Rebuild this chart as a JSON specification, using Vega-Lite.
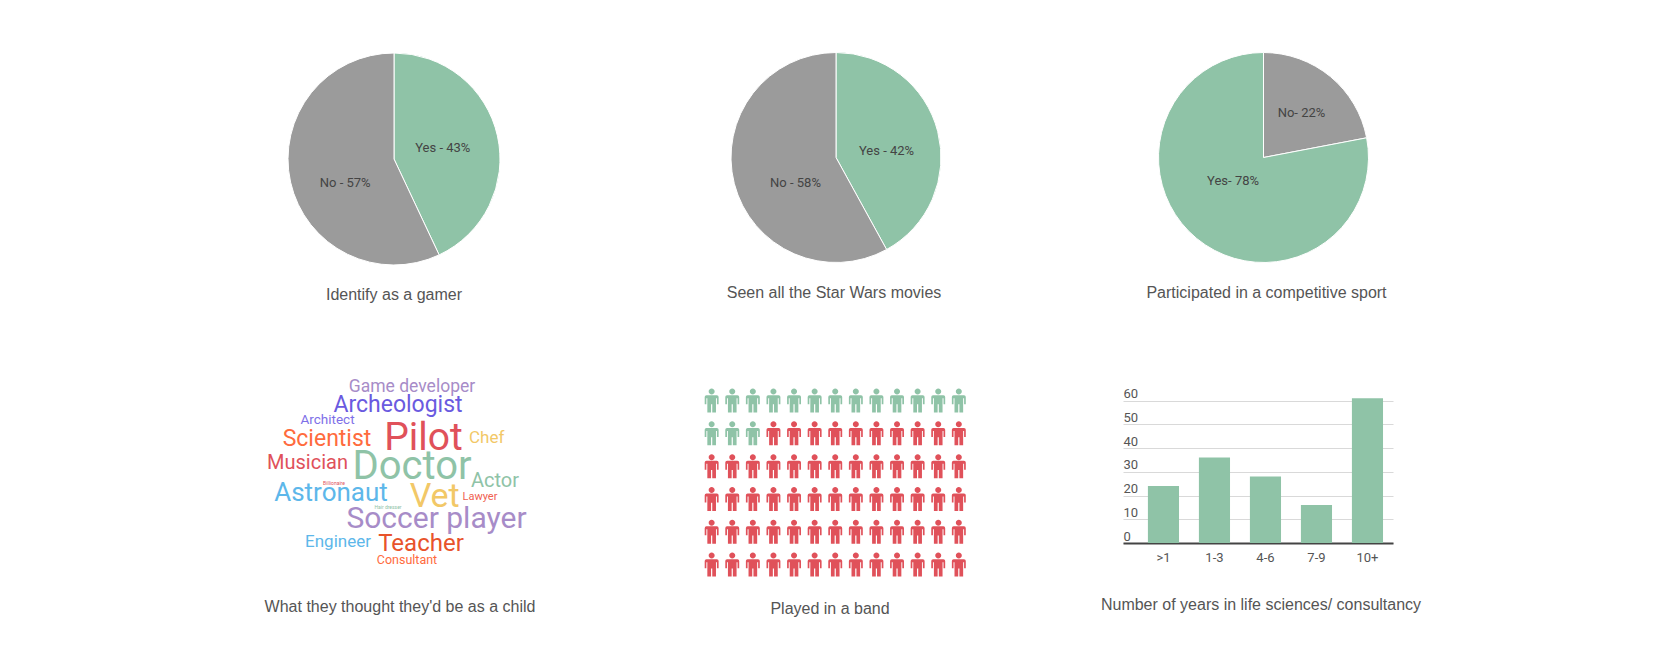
{
  "$schema": "https://vega.github.io/schema/vega-lite/v6.json",
  "padding": {"left": 173, "top": 0, "right": 0, "bottom": 0},
  "background": "white",
  "spacing": 22,
  "resolve": {"scale": {"color": "independent"}},
  "config": {
    "view": {"stroke": null},
    "font": "Roboto",
    "title": {"font": "Liberation Sans", "fontSize": 16, "fontWeight": "normal", "color": "#555555", "orient": "bottom", "anchor": "middle", "frame": "group"}
  },
  "vconcat": [
    {
      "spacing": 0,
      "resolve": {"scale": {"color": "independent"}},
      "hconcat": [
        {
          "width": 442,
          "height": 318,
          "title": {"text": "Identify as a gamer", "offset": -31},
          "data": {"values": [
            {"answer": "Yes", "share": 43, "slice": 1, "label": "Yes - 43%"},
            {"answer": "No", "share": 57, "slice": 2, "label": "No - 57%"}
          ]},
          "encoding": {
            "theta": {"field": "share", "type": "quantitative", "stack": true},
            "order": {"field": "slice", "type": "ordinal"},
            "detail": {"field": "answer"}
          },
          "layer": [
            {
              "mark": {"type": "arc", "outerRadius": 106, "stroke": "white", "strokeWidth": 1},
              "encoding": {"color": {"field": "answer", "type": "nominal", "legend": null, "scale": {"domain": ["Yes", "No"], "range": ["#8fc3a7", "#9b9b9b"]}}}
            },
            {
              "mark": {"type": "text", "radius": 50, "fontSize": 13, "color": "#444444", "dy": {"expr": "datum.answer === 'No' ? 12.6 : 0"}},
              "encoding": {"text": {"field": "label"}}
            }
          ]
        },
        {
          "width": 442,
          "height": 315,
          "title": {"text": "Seen all the Star Wars movies", "offset": -30, "dx": -2},
          "data": {"values": [
            {"answer": "Yes", "share": 42, "slice": 1, "label": "Yes - 42%"},
            {"answer": "No", "share": 58, "slice": 2, "label": "No - 58%"}
          ]},
          "encoding": {
            "theta": {"field": "share", "type": "quantitative", "stack": true},
            "order": {"field": "slice", "type": "ordinal"},
            "detail": {"field": "answer"}
          },
          "layer": [
            {
              "mark": {"type": "arc", "outerRadius": 105, "stroke": "white", "strokeWidth": 1},
              "encoding": {"color": {"field": "answer", "type": "nominal", "legend": null, "scale": {"domain": ["Yes", "No"], "range": ["#8fc3a7", "#9b9b9b"]}}}
            },
            {
              "mark": {"type": "text", "radius": 47, "fontSize": 13, "color": "#444444", "dx": 5, "dy": {"expr": "datum.answer === 'No' ? 14.3 : 4.7"}},
              "encoding": {"text": {"field": "label"}}
            }
          ]
        },
        {
          "width": 413,
          "height": 315,
          "title": {"text": "Participated in a competitive sport", "offset": -30, "dx": 3},
          "data": {"values": [
            {"answer": "No", "share": 22, "slice": 1, "label": "No- 22%"},
            {"answer": "Yes", "share": 78, "slice": 2, "label": "Yes- 78%"}
          ]},
          "encoding": {
            "theta": {"field": "share", "type": "quantitative", "stack": true},
            "order": {"field": "slice", "type": "ordinal"},
            "detail": {"field": "answer"}
          },
          "layer": [
            {
              "mark": {"type": "arc", "outerRadius": 105, "stroke": "white", "strokeWidth": 1},
              "encoding": {"color": {"field": "answer", "type": "nominal", "legend": null, "scale": {"domain": ["Yes", "No"], "range": ["#8fc3a7", "#9b9b9b"]}}}
            },
            {
              "mark": {"type": "text", "radius": 47, "fontSize": 13, "color": "#444444", "dx": {"expr": "datum.answer === 'No' ? 8 : -0.5"}, "dy": {"expr": "datum.answer === 'No' ? -7.8 : -13.2"}},
              "encoding": {"text": {"field": "label"}}
            }
          ]
        }
      ]
    },
    {
      "spacing": 0,
      "resolve": {"scale": {"color": "independent"}},
      "hconcat": [
        {
          "width": 454,
          "height": 240,
          "title": {"text": "What they thought they'd be as a child", "offset": 19},
          "data": {"values": [
            {"word": "Game developer", "cx": 412, "cy": 385.7, "count": 17.5},
            {"word": "Archeologist", "cx": 398, "cy": 403, "count": 23},
            {"word": "Architect", "cx": 327.5, "cy": 418, "count": 13.5},
            {"word": "Pilot", "cx": 423.5, "cy": 436, "count": 39},
            {"word": "Scientist", "cx": 327, "cy": 437, "count": 23},
            {"word": "Chef", "cx": 486.7, "cy": 436, "count": 17},
            {"word": "Musician", "cx": 307.5, "cy": 461.7, "count": 20},
            {"word": "Doctor", "cx": 412, "cy": 465, "count": 40},
            {"word": "Actor", "cx": 495, "cy": 479, "count": 20},
            {"word": "Billionaire", "cx": 334, "cy": 481, "count": 5},
            {"word": "Astronaut", "cx": 331, "cy": 491, "count": 26},
            {"word": "Vet", "cx": 434.7, "cy": 495, "count": 34},
            {"word": "Lawyer", "cx": 480, "cy": 495.7, "count": 11},
            {"word": "Hair dresser", "cx": 388, "cy": 505, "count": 5},
            {"word": "Soccer player", "cx": 436.5, "cy": 517.5, "count": 30},
            {"word": "Engineer", "cx": 338, "cy": 540, "count": 17},
            {"word": "Teacher", "cx": 421, "cy": 542, "count": 24},
            {"word": "Consultant", "cx": 407, "cy": 558, "count": 12.5}
          ]},
          "mark": {"type": "text", "baseline": "middle", "align": "center"},
          "encoding": {
            "x": {"field": "cx", "type": "quantitative", "axis": null, "scale": {"domain": [173, 627], "nice": false, "zero": false}},
            "y": {"field": "cy", "type": "quantitative", "axis": null, "scale": {"domain": [338.5, 578.5], "reverse": true, "nice": false, "zero": false}},
            "text": {"field": "word"},
            "size": {"field": "count", "type": "quantitative", "scale": null, "legend": null},
            "color": {
              "field": "word",
              "type": "nominal",
              "legend": null,
              "scale": {
                "domain": ["Game developer", "Archeologist", "Architect", "Pilot", "Scientist", "Chef", "Musician", "Doctor", "Actor", "Billionaire", "Astronaut", "Vet", "Lawyer", "Hair dresser", "Soccer player", "Engineer", "Teacher", "Consultant"],
                "range": ["#a78cc8", "#6a5ae0", "#7e6fe8", "#e0515a", "#ff6b3d", "#f2c867", "#e0515a", "#8fc3a7", "#8fc3a7", "#e0515a", "#5db7ea", "#f2c867", "#f06050", "#8fc3a7", "#a78cc8", "#5db7ea", "#e8532b", "#ff6b3d"]
              }
            }
          }
        },
        {
          "width": 472.5,
          "height": 240,
          "title": {"text": "Played in a band", "offset": 21, "dx": -33.25},
          "data": {"values": [
            {"col": 1, "row": 1, "band": "Yes"}, {"col": 2, "row": 1, "band": "Yes"}, {"col": 3, "row": 1, "band": "Yes"}, {"col": 4, "row": 1, "band": "Yes"}, {"col": 5, "row": 1, "band": "Yes"}, {"col": 6, "row": 1, "band": "Yes"}, {"col": 7, "row": 1, "band": "Yes"}, {"col": 8, "row": 1, "band": "Yes"}, {"col": 9, "row": 1, "band": "Yes"}, {"col": 10, "row": 1, "band": "Yes"}, {"col": 11, "row": 1, "band": "Yes"}, {"col": 12, "row": 1, "band": "Yes"}, {"col": 13, "row": 1, "band": "Yes"},
            {"col": 1, "row": 2, "band": "Yes"}, {"col": 2, "row": 2, "band": "Yes"}, {"col": 3, "row": 2, "band": "Yes"}, {"col": 4, "row": 2, "band": "No"}, {"col": 5, "row": 2, "band": "No"}, {"col": 6, "row": 2, "band": "No"}, {"col": 7, "row": 2, "band": "No"}, {"col": 8, "row": 2, "band": "No"}, {"col": 9, "row": 2, "band": "No"}, {"col": 10, "row": 2, "band": "No"}, {"col": 11, "row": 2, "band": "No"}, {"col": 12, "row": 2, "band": "No"}, {"col": 13, "row": 2, "band": "No"},
            {"col": 1, "row": 3, "band": "No"}, {"col": 2, "row": 3, "band": "No"}, {"col": 3, "row": 3, "band": "No"}, {"col": 4, "row": 3, "band": "No"}, {"col": 5, "row": 3, "band": "No"}, {"col": 6, "row": 3, "band": "No"}, {"col": 7, "row": 3, "band": "No"}, {"col": 8, "row": 3, "band": "No"}, {"col": 9, "row": 3, "band": "No"}, {"col": 10, "row": 3, "band": "No"}, {"col": 11, "row": 3, "band": "No"}, {"col": 12, "row": 3, "band": "No"}, {"col": 13, "row": 3, "band": "No"},
            {"col": 1, "row": 4, "band": "No"}, {"col": 2, "row": 4, "band": "No"}, {"col": 3, "row": 4, "band": "No"}, {"col": 4, "row": 4, "band": "No"}, {"col": 5, "row": 4, "band": "No"}, {"col": 6, "row": 4, "band": "No"}, {"col": 7, "row": 4, "band": "No"}, {"col": 8, "row": 4, "band": "No"}, {"col": 9, "row": 4, "band": "No"}, {"col": 10, "row": 4, "band": "No"}, {"col": 11, "row": 4, "band": "No"}, {"col": 12, "row": 4, "band": "No"}, {"col": 13, "row": 4, "band": "No"},
            {"col": 1, "row": 5, "band": "No"}, {"col": 2, "row": 5, "band": "No"}, {"col": 3, "row": 5, "band": "No"}, {"col": 4, "row": 5, "band": "No"}, {"col": 5, "row": 5, "band": "No"}, {"col": 6, "row": 5, "band": "No"}, {"col": 7, "row": 5, "band": "No"}, {"col": 8, "row": 5, "band": "No"}, {"col": 9, "row": 5, "band": "No"}, {"col": 10, "row": 5, "band": "No"}, {"col": 11, "row": 5, "band": "No"}, {"col": 12, "row": 5, "band": "No"}, {"col": 13, "row": 5, "band": "No"},
            {"col": 1, "row": 6, "band": "No"}, {"col": 2, "row": 6, "band": "No"}, {"col": 3, "row": 6, "band": "No"}, {"col": 4, "row": 6, "band": "No"}, {"col": 5, "row": 6, "band": "No"}, {"col": 6, "row": 6, "band": "No"}, {"col": 7, "row": 6, "band": "No"}, {"col": 8, "row": 6, "band": "No"}, {"col": 9, "row": 6, "band": "No"}, {"col": 10, "row": 6, "band": "No"}, {"col": 11, "row": 6, "band": "No"}, {"col": 12, "row": 6, "band": "No"}, {"col": 13, "row": 6, "band": "No"}
          ]},
          "mark": {
            "type": "point",
            "filled": true,
            "opacity": 1,
            "size": 576,
            "shape": "M-.58 .3 L-.58 -.3 Q-.58 -.45 -.43 -.45 L.43 -.45 Q.58 -.45 .58 -.3 L.58 .3 L.44 .3 L.44 -.2 L.36 -.2 L.36 1 L.05 1 L.05 .32 L-.05 .32 L-.05 1 L-.36 1 L-.36 -.2 L-.44 -.2 L-.44 .3 Z M.25 -.75 A.25 .25 0 1 1 -.25 -.75 A.25 .25 0 1 1 .25 -.75 Z"
          },
          "encoding": {
            "x": {"field": "col", "type": "quantitative", "axis": null, "scale": {"domain": [-3.11, 19.83], "nice": false, "zero": false}},
            "y": {"field": "row", "type": "quantitative", "axis": null, "scale": {"domain": [-0.845, 6.47], "reverse": true, "nice": false, "zero": false}},
            "color": {"field": "band", "type": "nominal", "legend": null, "scale": {"domain": ["Yes", "No"], "range": ["#8fc3a7", "#e0515a"]}}
          }
        },
        {
          "width": 270,
          "height": 203,
          "title": {"text": "Number of years in life sciences/ consultancy", "offset": 33, "dx": 3},
          "data": {"values": [
            {"years": ">1", "people": 24},
            {"years": "1-3", "people": 36},
            {"years": "4-6", "people": 28},
            {"years": "7-9", "people": 16},
            {"years": "10+", "people": 61}
          ]},
          "mark": {"type": "bar", "color": "#8fc3a7"},
          "encoding": {
            "x": {
              "field": "years",
              "type": "ordinal",
              "sort": null,
              "title": null,
              "scale": {"paddingInner": 0.39, "paddingOuter": 0.342, "align": 0.714},
              "axis": {"labelAngle": 0, "labelFont": "Roboto", "labelFontSize": 13, "labelColor": "#555555", "labelPadding": 8, "ticks": false, "domainColor": "#444444", "domainWidth": 2}
            },
            "y": {
              "field": "people",
              "type": "quantitative",
              "title": null,
              "scale": {"domain": [0, 85.5], "nice": false},
              "axis": {"values": [0, 10, 20, 30, 40, 50, 60], "domain": false, "ticks": false, "tickSize": 0, "labelPadding": 0, "labelAlign": "left", "labelBaseline": "bottom", "labelFont": "Roboto", "labelFontSize": 13, "labelColor": "#555555", "gridColor": "#d9d9d9", "grid": true}
            }
          }
        }
      ]
    }
  ]
}
